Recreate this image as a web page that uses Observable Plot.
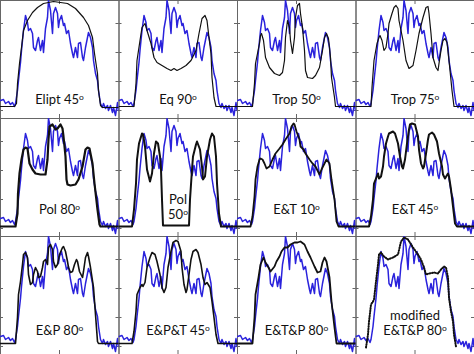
<!DOCTYPE html>
<html><head><meta charset="utf-8">
<script src="https://cdn.jsdelivr.net/npm/d3@7"></script>
<script src="https://cdn.jsdelivr.net/npm/@observablehq/plot@0.6"></script>
<style>html,body{margin:0;padding:0;background:#fff;}#chart{width:474px;height:354px;}</style>
</head><body><div id="chart"></div>
<script>
// measured profile (same in every panel): [position, intensity]
const measured = [[-59,10],[-56,11],[-54,7],[-51,9],[-49,6],[-47,8],[-45,4],[-44,7],[-42,20],[-41,30],[-39,48],[-38,60],[-36,80],[-34,95],[-32,88],[-31,80],[-29,82],[-27,77],[-26,63],[-24,60],[-22,70],[-21,73],[-19,60],[-17,70],[-16,58],[-14,82],[-12,93],[-11,110],[-9,100],[-7,77],[-6,97],[-4,103],[-2,97],[-1,83],[0,90],[2,95],[4,85],[5,87],[7,77],[9,80],[11,67],[13,57],[14,53],[16,63],[18,53],[19,67],[21,68],[23,53],[24,50],[26,63],[28,73],[29,78],[31,73],[33,63],[34,50],[36,37],[38,30],[39,20],[41,7],[43,3],[44,7],[46,2],[48,5],[49,0],[51,5],[53,-2],[54,3],[56,-5],[58,8],[59,0]];

// model profiles
const modelElipt45 = [[-59,4],[-45,4],[-43,7],[-42,27],[-40,47],[-38,63],[-36,80],[-32,90],[-27,98],[-22,103],[-16,107],[-6,109],[1,108],[8,107],[16,102],[24,93],[29,85],[33,73],[35,57],[38,37],[39,20],[41,5],[43,3],[59,3]];
const modelEq90 = [[-59,4],[-44,4],[-42,27],[-41,50],[-38,70],[-36,83],[-33,87],[-31,80],[-27,67],[-24,53],[-21,48],[-16,45],[-11,42],[-7,40],[-4,42],[-1,40],[3,42],[8,45],[13,50],[18,60],[21,77],[24,92],[27,95],[29,90],[31,73],[33,57],[34,33],[36,13],[38,4],[59,4]];
const modelTrop50 = [[-59,4],[-44,4],[-42,27],[-41,47],[-39,57],[-37,67],[-36,75],[-35,77],[-33,70],[-31,53],[-27,43],[-22,37],[-17,35],[-14,38],[-12,50],[-11,73],[-9,90],[-7,83],[-6,70],[-4,57],[-2,73],[-1,93],[1,105],[3,107],[4,97],[6,83],[8,60],[9,40],[11,33],[16,32],[19,35],[23,43],[26,60],[28,73],[30,77],[32,72],[34,53],[35,33],[38,13],[39,4],[59,4]];
const modelTrop75 = [[-59,4],[-44,4],[-43,23],[-41,50],[-38,67],[-36,73],[-35,75],[-33,70],[-31,60],[-29,63],[-27,77],[-26,87],[-23,97],[-21,103],[-19,105],[-17,102],[-16,90],[-12,70],[-9,50],[-6,42],[-2,45],[1,60],[4,77],[8,93],[11,103],[13,104],[14,97],[16,77],[18,53],[21,43],[23,40],[24,47],[26,60],[28,70],[30,72],[32,68],[34,50],[37,20],[39,4],[59,4]];
const modelPol80 = [[-59,2],[-44,2],[-42,15],[-41.5,35],[-40,55],[-38,69],[-36,79],[-34,81],[-32,80],[-30,65],[-27,59],[-24,55],[-19,54],[-14,54],[-12,69],[-11,89],[-10,102],[-7,104],[-4,99],[-2,100],[1,104],[3,100],[4,92],[6,72],[7,49],[8,44],[11,43],[16,44],[19,49],[23,62],[26,79],[28,81],[30,80],[33,65],[35,45],[38,19],[40,4],[41,2],[59,2]];
const modelPol50 = [[-59,2],[-46,2],[-44,19],[-42,45],[-41,69],[-39,85],[-36,95],[-35,94],[-33,82],[-31,59],[-28,47],[-26,55],[-24,75],[-22,87],[-20,85],[-18,72],[-17,59],[-16,29],[-15,3],[11,3],[12,29],[14,59],[15,72],[18,84],[19,87],[22,79],[24,62],[25,49],[27,52],[29,72],[32,89],[34,95],[36,92],[38,72],[39,45],[41,15],[43,2],[59,2]];
const modelET10 = [[-59,2],[-46,2],[-44,12],[-42,32],[-41,49],[-39,62],[-37,69],[-36,70],[-34,69],[-32,65],[-30,60],[-27,62],[-24,69],[-21,75],[-17,80],[-14,84],[-11,89],[-7,95],[-5,102],[-3,105],[-2,104],[0,97],[3,89],[4,82],[7,79],[9,75],[13,69],[16,65],[19,62],[23,54],[25,59],[28,65],[30,69],[33,65],[35,49],[38,29],[40,7],[42,2],[59,2]];
const modelET45 = [[-59,2],[-46,2],[-44,12],[-42,29],[-41,45],[-39,50],[-37,55],[-36,50],[-34,52],[-32,62],[-31,72],[-29,85],[-27,92],[-26,95],[-22,97],[-20,95],[-17,85],[-15,72],[-13,62],[-12,60],[-10,69],[-8,85],[-6,99],[-5,104],[-3,105],[0,104],[3,92],[4,79],[6,65],[8,60],[9,62],[11,75],[13,89],[14,94],[17,96],[19,94],[22,87],[24,75],[27,62],[28,54],[30,50],[33,55],[34,52],[36,39],[38,22],[40,5],[42,2],[59,2]];
const modelEP80 = [[-59,3],[-44,3],[-42,29],[-41,52],[-39,65],[-37,82],[-36,92],[-34,94],[-32,89],[-31,72],[-29,62],[-27,64],[-26,72],[-24,79],[-22,75],[-21,69],[-19,70],[-17,79],[-16,85],[-14,87],[-12,82],[-11,99],[-9,102],[-7,97],[-6,85],[-4,79],[-2,82],[0,92],[3,99],[4,100],[6,95],[8,85],[9,79],[11,74],[13,75],[15,82],[17,87],[18,85],[20,75],[23,69],[24,75],[26,89],[28,94],[29,90],[31,79],[34,59],[36,32],[38,5],[39,3],[59,3]];
const modelEPT45 = [[-59,3],[-46,3],[-44,15],[-42,35],[-41,52],[-38,59],[-36,62],[-35,60],[-33,64],[-31,79],[-28,89],[-26,94],[-23,92],[-21,85],[-18,72],[-16,59],[-14,54],[-12,59],[-10,79],[-7,95],[-5,104],[-2,106],[0,105],[3,95],[4,79],[6,62],[8,54],[9,57],[11,72],[13,87],[15,95],[18,97],[20,94],[23,82],[25,69],[27,62],[29,64],[32,59],[34,45],[36,29],[38,12],[40,3],[59,3]];
const modelETP80 = [[-59,3],[-44,3],[-42,29],[-41,52],[-38,69],[-36,82],[-33,89],[-31,84],[-28,79],[-26,75],[-22,80],[-20,85],[-17,90],[-15,95],[-12,99],[-9,99],[-6,102],[-2,104],[1,104],[4,105],[8,102],[11,95],[14,89],[18,80],[21,74],[24,75],[26,84],[28,89],[30,85],[33,69],[35,45],[38,19],[40,3],[59,3]];
const modelModETP80 = [[-49,-1],[-47,12],[-46,25],[-44,42],[-42,45],[-41,47],[-39,65],[-37,82],[-36,92],[-34,94],[-31,90],[-27,87],[-22,89],[-17,92],[-14,105],[-11,109],[-7,107],[-2,99],[3,92],[6,87],[9,79],[11,72],[14,73],[19,74],[23,73],[26,77],[29,80],[31,79],[33,69],[34,49],[36,35],[38,25],[39,12],[41,0]];

const panelTitles = ["Elipt 45°","Eq 90°","Trop 50°","Trop 75°","Pol 80°","Pol\n50°","E&T 10°","E&T 45°","E&P 80°","E&P&T 45°","E&T&P 80°","modified\nE&T&P 80°"];
const yTickValues = [0, 29, 58, 87];

const models = [modelElipt45, modelEq90, modelTrop50, modelTrop75, modelPol80, modelPol50, modelET10, modelET45, modelEP80, modelEPT45, modelETP80, modelModETP80];

// styling / layout (not data)
const modelWidths = [1.2,1.2,1.2,1.2,2.2,2,1.8,2,1.6,1.6,1.8,2];
const labelBase = [7,7,7,7,15,10,15,15,12,12,12,12];
const lineStep = 15;

const labelRows = [];
panelTitles.forEach((t, i) => {
  const lines = t.split("\n");
  lines.forEach((s, k) => labelRows.push({text: s, col: i % 4, row: Math.floor(i / 4), y: labelBase[i] + (lines.length - 1 - k) * lineStep}));
});

const marks = [
  Plot.frame({stroke: "#666"}),
  Plot.tickY(yTickValues, {y: d => d, insetRight: 115.5, stroke: "#666"}),
  Plot.tickY(yTickValues, {y: d => d, insetLeft: 115.5, stroke: "#666"}),
  Plot.tickX([0], {x: d => d, insetBottom: 114, stroke: "#666"}),
  Plot.tickX([0], {x: d => d, insetTop: 114, stroke: "#666"}),
  Plot.line(measured, {x: d => d[0], y: d => d[1], stroke: "#2a22dc", strokeWidth: 1.5, clip: true})
];
models.forEach((m, i) => {
  const data = m.map(([x, y]) => ({x, y, col: i % 4, row: Math.floor(i / 4)}));
  marks.push(Plot.line(data, {x: "x", y: "y", fx: "col", fy: "row", stroke: "#111", strokeWidth: modelWidths[i],
    strokeDasharray: i === 11 ? "1,1.6" : null, clip: true}));
});
marks.push(Plot.text(labelRows, {x: 0, y: "y", fx: "col", fy: "row", text: "text", textAnchor: "middle", lineAnchor: "bottom",
  fontSize: 13, fill: "#111", fontFamily: "Lato"}));

const plot = Plot.plot({
  width: 474, height: 354,
  margin: 0,
  style: {background: "#fff", fontFamily: "Lato"},
  fx: {domain: [0,1,2,3], padding: 0, round: false, axis: null},
  fy: {domain: [0,1,2], padding: 0, round: false, axis: null},
  x: {domain: [-59, 59.5], axis: null},
  y: {domain: [-8, 110], axis: null},
  marks
});
plot.querySelectorAll("text").forEach(t => {
  const s = t.textContent;
  if (s.endsWith("°")) {
    t.textContent = s.slice(0, -1);
    const sp = document.createElementNS("http://www.w3.org/2000/svg", "tspan");
    sp.setAttribute("dy", "-0.45em");
    sp.setAttribute("font-size", "0.65em");
    sp.textContent = "o";
    t.appendChild(sp);
  }
});
document.getElementById("chart").appendChild(plot);
</script>
</body></html>
